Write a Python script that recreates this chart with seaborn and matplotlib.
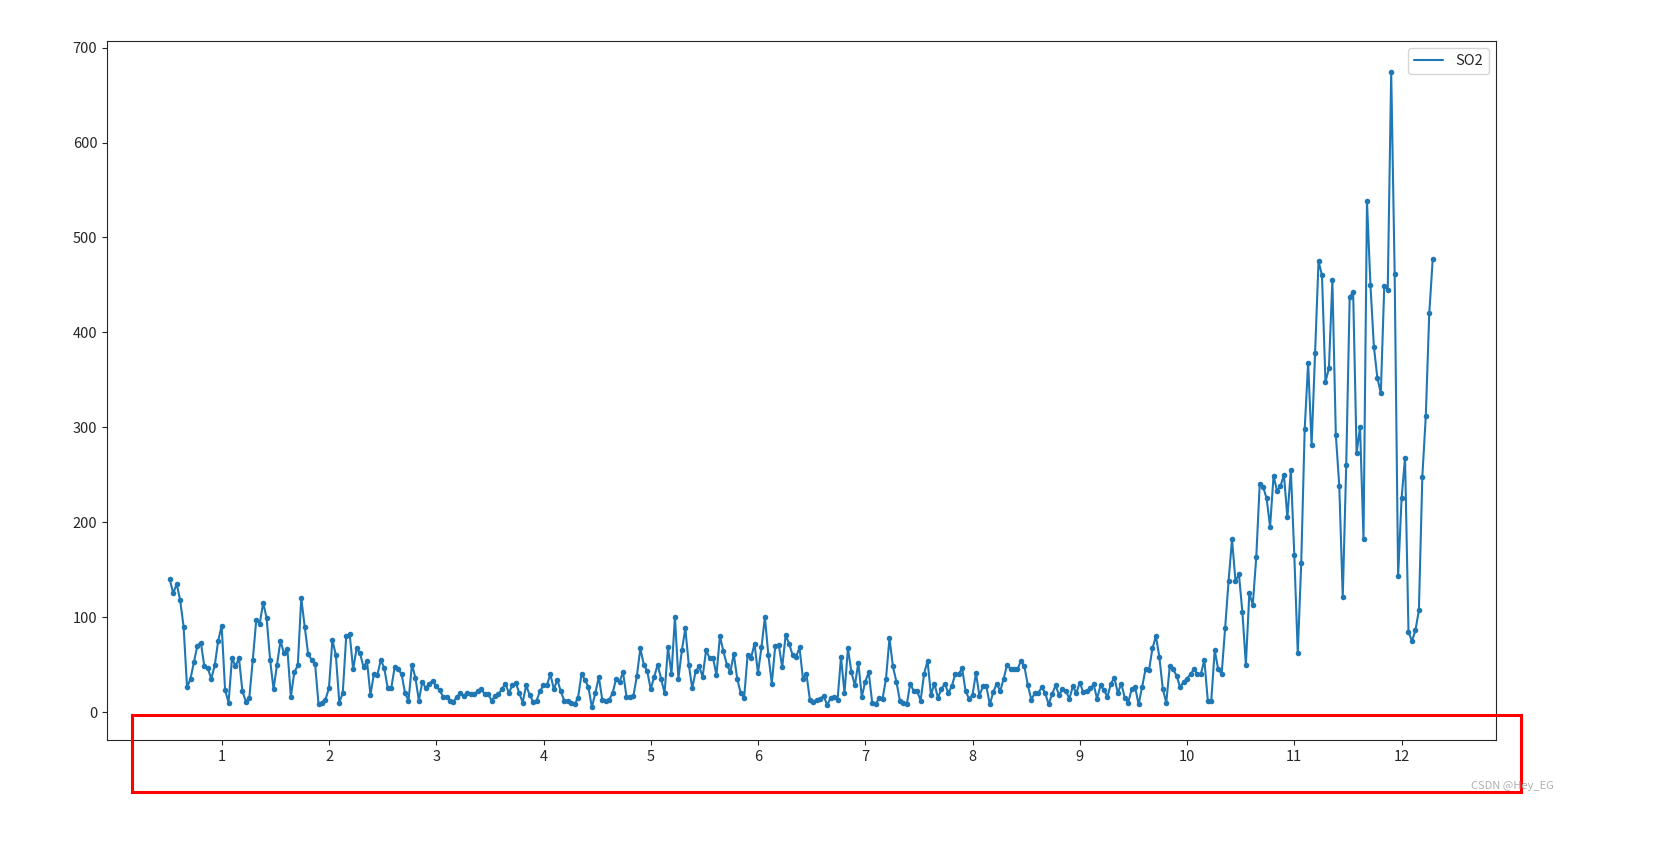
import numpy as np
import pandas as pd
import matplotlib
matplotlib.use("Agg")
import matplotlib.pyplot as plt
import seaborn as sns
from matplotlib.patches import Rectangle

so2 = [140,125,135,118,90,26,35,53,70,73,48,46,35,49,75,91,23,10,
57,48,57,22,11,15,55,97,93,115,99,55,24,50,75,62,66,16,42,49,120,90,61,55,51,8,10,13,25,
76,60,10,20,80,82,45,67,62,47,54,18,40,39,55,46,25,25,47,45,40,20,12,50,36,12,32,25,30,33,27,23,
16,16,12,11,16,20,17,20,19,19,22,24,19,19,12,17,19,24,30,20,28,31,20,10,28,18,11,12,22,28,28,40,
24,34,22,12,12,10,8,15,40,34,26,5,20,37,13,12,13,20,35,32,42,16,16,17,38,67,50,43,24,37,50,35,20,
68,40,100,35,65,88,50,25,43,48,37,65,57,57,39,80,64,50,42,61,35,20,15,60,57,72,41,68,100,60,30,70,71,
47,81,72,60,58,68,35,40,13,11,13,14,17,7,15,16,13,58,20,67,42,28,52,16,32,42,10,8,15,14,35,78,48,32,
12,9,8,30,22,22,12,40,54,18,30,15,24,30,20,27,40,40,46,22,14,18,41,17,27,27,8,21,30,22,35,50,45,
45,45,54,48,28,13,20,20,26,20,8,19,28,18,24,22,14,27,20,31,21,22,25,29,14,28,23,16,30,36,20,30,
15,10,24,26,8,26,45,44,67,80,58,24,10,48,45,38,26,32,35,40,45,40,40,55,12,12,65,45,40,88,
138,182,138,145,105,50,125,113,163,240,237,225,195,249,233,238,250,205,255,165,62,157,298,368,281,378,475,460,348,362,455,292,238,121,260,437,443,
273,300,182,538,450,385,352,336,449,445,674,462,143,225,268,84,75,86,107,248,312,420,477]

x_start, x_end = 0.515, 12.29
month_pos = np.linspace(x_start, x_end, len(so2))
df = pd.DataFrame({"month": month_pos, "SO2": so2})

sns.set_style("ticks")
plt.rcParams['font.family'] = ['Noto Sans CJK SC', 'DejaVu Sans']

fig = plt.figure(figsize=(16.79, 8.58), dpi=100)
ax = fig.add_axes([107/1679, 1-740/858, (1496-107)/1679, (740-41)/858])
sns.lineplot(data=df, x="month", y="SO2", ax=ax, color="#1f77b4", linewidth=1.5, label="SO2")
sns.scatterplot(data=df, x="month", y="SO2", ax=ax, color="#1f77b4", s=16,
                linewidth=0, zorder=3, legend=False)
ax.set_xlim(-0.07, 12.88)
ax.set_ylim(-29.5, 707)
ax.set_xticks(range(1, 13))
ax.set_yticks(range(0, 701, 100))
ax.set_xlabel("")
ax.set_ylabel("")
ax.tick_params(labelsize=10.5)
for s in ax.spines.values():
    s.set_visible(True)
    s.set_linewidth(0.8)
ax.legend(loc="upper right", fontsize=10.5)

fig.patches.append(Rectangle((132/1679, 1-792/858), (1521-132)/1679, (792-715)/858,
                             transform=fig.transFigure, fill=False, edgecolor="red",
                             linewidth=2.2))
fig.text(1554/1679, 1-786/858, "CSDN @Hey_EG", ha="right", va="center",
         fontsize=8, color="#b0b0b0")
fig.savefig("out.png", dpi=100)
